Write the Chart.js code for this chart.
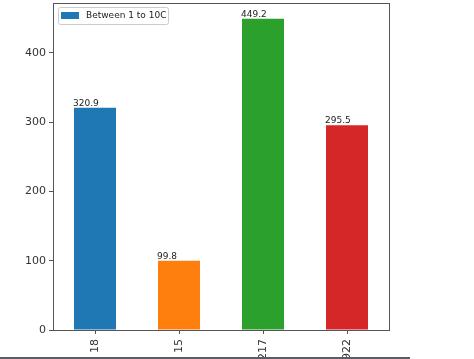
<!DOCTYPE html>
<html>
<head>
<meta charset="utf-8">
<script src="https://cdn.jsdelivr.net/npm/chart.js@4/dist/chart.umd.min.js"></script>
<style>
  html, body { margin:0; padding:0; background:#fff; overflow:hidden; }
  #wrap { position:relative; width:474px; height:359px; }
  #bar { position:absolute; left:0; top:357px; width:410px; height:2px; background:#5c5c66; }
</style>
</head>
<body>
<div id="wrap">
  <canvas id="chart" width="474" height="359"></canvas>
  <div id="bar"></div>
</div>
<script>
// ================= DATA =================
const categories = ["18", "15", "217", "922"];
const values = [320.9, 99.8, 449.2, 295.5];
const seriesLabel = "Between 1 to 10C";
const barColors = ["#1f77b4", "#ff7f0e", "#2ca02c", "#d62728"];
const yTicks = [0, 100, 200, 300, 400];

const FONT = "'DejaVu Sans', sans-serif";

// frame, value labels and legend box
const extras = {
  id: "extras",
  afterDatasetsDraw(chart){
    const ctx = chart.ctx;
    const a = chart.chartArea;
    ctx.save();
    // axes frame
    ctx.strokeStyle = "#555";
    ctx.lineWidth = 1;
    ctx.strokeRect(a.left + 0.5, a.top + 0.5, a.right - a.left, a.bottom - a.top);

    // value labels at the left edge of each bar
    ctx.fillStyle = "#222";
    ctx.font = "9px " + FONT;
    ctx.textAlign = "left";
    ctx.textBaseline = "bottom";
    chart.getDatasetMeta(0).data.forEach((bar, i) => {
      ctx.fillText(values[i].toFixed(1), bar.x - bar.width / 2 - 1, bar.y);
    });

    // legend
    const lx = 58, ly = 7, lw = 110, lh = 17;
    ctx.fillStyle = "#fff";
    ctx.strokeStyle = "#ccc";
    ctx.beginPath();
    ctx.roundRect(lx + 0.5, ly + 0.5, lw, lh, 2);
    ctx.fill();
    ctx.stroke();
    ctx.fillStyle = barColors[0];
    ctx.fillRect(lx + 3, ly + 5, 18, 7);
    ctx.fillStyle = "#222";
    ctx.textBaseline = "middle";
    ctx.fillText(seriesLabel, lx + 28, ly + 9);
    ctx.restore();
  }
};

new Chart(document.getElementById("chart"), {
  type: "bar",
  data: {
    labels: categories,
    datasets: [{
      label: seriesLabel,
      data: values,
      backgroundColor: barColors,
      borderWidth: 0,
      categoryPercentage: 1,
      barPercentage: 0.5
    }]
  },
  options: {
    responsive: false,
    animation: false,
    layout: { padding: { left: 0, top: 3, right: 85, bottom: 0 } },
    plugins: { legend: { display: false }, tooltip: { enabled: false } },
    scales: {
      x: {
        offset: true,
        grid: { display: true, drawOnChartArea: false, drawTicks: true, tickLength: 4, color: "#555", offset: false },
        border: { display: false },
        ticks: { minRotation: 90, maxRotation: 90, padding: 5, color: "#333", font: { family: FONT, size: 11 } },
        afterFit: s => { s.height = 29; s.paddingLeft = 0; s.paddingRight = 0; }
      },
      y: {
        min: 0,
        max: 472,
        afterBuildTicks: s => { s.ticks = yTicks.map(v => ({ value: v })); },
        grid: { display: true, drawOnChartArea: false, drawTicks: true, tickLength: 4, color: "#555" },
        border: { display: false },
        ticks: { padding: 3, color: "#333", font: { family: FONT, size: 11 } },
        afterFit: s => { s.width = 53; s.paddingTop = 0; s.paddingBottom = 0; }
      }
    }
  },
  plugins: [extras]
});
</script>
</body>
</html>
